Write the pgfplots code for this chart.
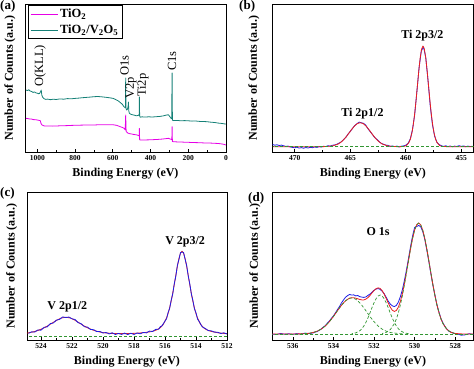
\documentclass[border=0pt]{standalone}
\usepackage{fontspec}
\setmainfont{Liberation Serif}
\usepackage{pgfplots}
\pgfplotsset{compat=1.18}
\definecolor{teal2}{RGB}{20,128,118}
\definecolor{mag}{RGB}{230,0,230}
\definecolor{dblue}{RGB}{30,30,230}
\definecolor{dred}{RGB}{235,30,30}
\definecolor{dgreen}{RGB}{50,150,50}
\tikzset{
 ann/.style={font=\fontsize{12}{14}\selectfont\bfseries},
 spec/.style={line width=0.8pt, line join=round},
 comp/.style={dgreen, line width=0.7pt, dash pattern=on 3pt off 2pt},
}
\pgfplotsset{
 panel/.style={
  scale only axis, width=201pt, height=148pt,
  x dir=reverse, ymin=0, ymax=148, ytick=\empty,
  xtick pos=bottom, tick align=inside, minor x tick num=1,
  major tick length=3pt, minor tick length=1.8pt,
  tick label style={font=\fontsize{7.5}{8}\selectfont\bfseries},
  /pgf/number format/assume math mode=true,
  /pgf/number format/1000 sep={},
  xlabel={Binding Energy (eV)}, ylabel={Number of Counts (a.u.)},
  label style={font=\fontsize{12}{14}\selectfont\bfseries},
  xlabel style={at={(axis description cs:0.5,-0.145)}, anchor=center},
  axis line style={line width=0.8pt},
  every tick/.style={black, line width=0.6pt},
 },
}
\begin{document}
\begin{tikzpicture}
\path[use as bounding box] (0pt,0pt) rectangle (474pt,368pt);
\node[anchor=north west, inner sep=0pt, font=\fontsize{13}{14}\selectfont\bfseries] at (0pt,368pt) {(a)};
\node[anchor=north west, inner sep=0pt, font=\fontsize{13}{14}\selectfont\bfseries] at (239pt,368pt) {(b)};
\node[anchor=north west, inner sep=0pt, font=\fontsize{13}{14}\selectfont\bfseries] at (0pt,181pt) {(c)};
\node[anchor=north west, inner sep=0pt, font=\fontsize{13}{14}\selectfont\bfseries] at (248pt,176pt) {(d)};

% ---------------- (a) survey
\begin{axis}[panel, at={(25pt,216pt)}, anchor=south west,
  xmin=0, xmax=1065, xtick={0,200,400,600,800,1000},
  ylabel style={at={(axis description cs:-0.075,0.5)}, anchor=center},
  legend style={at={(0.015,0.99)}, anchor=north west, draw=black, line width=0.5pt,
    font=\fontsize{12.5}{13}\selectfont\bfseries, inner xsep=2pt, inner ysep=1.5pt, row sep=1.5pt},
  legend cell align=left,
  legend image code/.code={\draw[#1] (0cm,0cm) -- (0.95cm,0cm);}]
\addplot[spec, mag] coordinates {(1060,33.7)(1050,33.4)(1040,33.0)(1030,32.9)(1020,32.4)(1010,32.3)(1000,32.0)(990,31.6)(984,31.3)(980,28.5)(976,27.2)(968,26.4)(960,26.0)(940,26.1)(920,25.9)(900,26.0)(880,26.2)(860,26.3)(840,26.4)(820,26.6)(800,26.7)(780,26.8)(760,26.9)(740,27.0)(720,27.1)(700,27.0)(680,27.2)(660,27.3)(640,27.2)(620,27.3)(600,27.3)(590,27.0)(580,26.7)(570,26.0)(560,25.3)(550,24.6)(540,23.7)(534,22.2)(531.5,37)(529,20.5)(525,19.8)(520,18.9)(512,18.4)(500,18.0)(490,17.6)(480,17.3)(470,17.0)(462,16.2)(460,16.4)(459,23.7)(457.5,12.3)(455,12.0)(440,12.0)(420,12.1)(400,12.2)(380,12.4)(360,12.6)(340,12.9)(320,13.3)(305,13.7)(296,13.0)(290,12.6)(287,12.4)(285.5,25.3)(284,10.6)(280,10.3)(260,10.1)(240,10.0)(220,9.8)(200,9.7)(180,9.5)(160,9.4)(140,9.3)(120,9.1)(100,9.0)(80,8.9)(60,8.7)(40,8.5)(20,8.0)(10,7.6)(0,7.0)};
\addlegendentry{TiO\textsubscript{2}}
\addplot[spec, teal2] coordinates {(1060,62)(1052,61.5)(1045,62.2)(1038,61)(1030,60.5)(1022,59.6)(1015,60.1)(1008,59.2)(1000,58.8)(994,58.3)(988,58.5)(982,60.5)(979,62)(976,57)(972,55)(965,53.4)(955,52.6)(945,52.9)(930,52.3)(915,52.8)(900,52.5)(880,53.1)(860,52.8)(840,53.4)(820,53.2)(800,53.6)(780,53.9)(760,54.3)(740,54.6)(720,54.9)(700,55.3)(680,55.5)(660,55.2)(640,54.8)(620,54.3)(600,53.7)(590,53.0)(580,52.0)(570,51.0)(560,49.4)(550,47.9)(542,45.6)(536,44.5)(533,44.2)(531.5,74)(530,44)(527,42)(523,42.5)(519,45)(517,50)(515,41)(512,38.7)(505,37.8)(495,37.2)(485,36.8)(475,36.2)(466,36.6)(462,36.8)(460,38)(459,55)(457.5,36)(455,34.8)(445,35.2)(430,34.9)(410,35.2)(390,35.0)(370,35.3)(350,35.6)(330,36.2)(315,37.0)(305,37.2)(298,35.5)(292,33.8)(288,33.5)(285.5,79)(284,32)(280,31.4)(260,31.6)(240,31.2)(220,31.4)(200,31.2)(180,30.9)(160,31.0)(140,30.6)(120,30.5)(100,30.3)(80,29.8)(60,29.5)(40,28.9)(20,28.5)(5,28.0)(0,28)};
\addlegendentry{TiO\textsubscript{2}/V\textsubscript{2}O\textsubscript{5}}
\node[rotate=90, anchor=west, inner sep=1pt, font=\fontsize{12.5}{14}\selectfont] at (axis cs:985,64) {O(KLL)};
\node[rotate=90, anchor=west, inner sep=1pt, font=\fontsize{12.5}{14}\selectfont] at (axis cs:537,75) {O1s};
\node[rotate=90, anchor=west, inner sep=1pt, font=\fontsize{12.5}{14}\selectfont] at (axis cs:503,52) {V2p};
\node[rotate=90, anchor=west, inner sep=1pt, font=\fontsize{12.5}{14}\selectfont] at (axis cs:440,54) {Ti2p};
\node[rotate=90, anchor=west, inner sep=1pt, font=\fontsize{12.5}{14}\selectfont] at (axis cs:286,80) {C1s};
\end{axis}

% ---------------- (b) Ti 2p
\begin{axis}[panel, at={(272.5pt,216pt)}, anchor=south west,
  xmin=453.9, xmax=472, xtick={455,460,465,470},
  ylabel style={at={(axis description cs:-0.093,0.5)}, anchor=center}]
\addplot[spec, dblue] coordinates {(472.0,7.5)(471.8,6.8)(471.6,7.2)(471.4,6.5)(471.2,6.9)(471.0,6.2)(470.8,5.6)(470.6,5.9)(470.4,5.0)(470.2,4.6)(470.0,4.2)(469.8,4.8)(469.6,3.9)(469.4,4.4)(469.2,3.8)(469.0,4.5)(468.8,4.0)(468.6,4.7)(468.4,4.3)(468.2,5.0)(468.0,4.6)(467.8,5.4)(467.6,5.0)(467.4,5.7)(467.2,5.4)(467.0,6.3)(466.8,5.9)(466.6,6.8)(466.4,7.0)(466.2,7.8)(466.0,8.9)(465.8,10.2)(465.6,12.5)(465.4,14.6)(465.2,17.9)(465.0,20.6)(464.8,23.5)(464.6,26.4)(464.4,28.2)(464.2,29.9)(464.0,29.2)(463.8,28.7)(463.6,26.8)(463.4,23.2)(463.2,20.4)(463.0,17.5)(462.8,14.5)(462.6,12.6)(462.4,10.4)(462.2,8.6)(462.0,7.7)(461.8,6.9)(461.6,6.6)(461.4,5.6)(461.2,6.0)(461.0,5.4)(460.8,5.9)(460.6,5.1)(460.4,5.8)(460.2,6.1)(460.0,6.8)(459.8,8.5)(459.6,12.8)(459.4,21.9)(459.2,37.0)(459.0,60.2)(458.8,84.4)(458.6,101.0)(458.4,105.2)(458.2,94.6)(458.0,72.0)(457.8,46.7)(457.6,27.5)(457.4,15.8)(457.2,9.9)(457.0,7.5)(456.8,6.3)(456.6,5.6)(456.4,6.2)(456.2,5.4)(456.0,6.0)(455.8,5.2)(455.6,5.9)(455.4,5.5)(455.2,6.3)(455.0,5.6)(454.8,6.1)(454.6,5.3)(454.4,5.9)(454.2,5.4)(454.0,5.8)};
\addplot[spec, dred] coordinates {(453.9,5.3)(455,5.3)(456,5.3)(456.7,5.5)(456.95,6.4)(457.2,9.7)(457.325,13.3)(457.45,18.9)(457.575,27.1)(457.7,38.0)(457.825,51.4)(457.95,66.4)(458.075,81.3)(458.2,94.2)(458.325,102.9)(458.45,106.0)(458.575,102.9)(458.7,94.2)(458.825,81.3)(458.95,66.4)(459.075,51.4)(459.2,38.0)(459.325,27.1)(459.45,18.9)(459.575,13.3)(459.7,9.7)(459.95,6.4)(460.2,5.5)(460.6,5.3)(461.1,5.5)(461.6,6.05)(462.1,7.9)(462.35,9.7)(462.6,12.2)(462.85,15.4)(463.1,19.1)(463.35,22.9)(463.6,26.2)(463.85,28.5)(464.1,29.3)(464.35,28.5)(464.6,26.2)(464.85,22.9)(465.1,19.1)(465.35,15.4)(465.6,12.2)(465.85,9.7)(466.1,7.9)(466.6,6.05)(467.1,5.5)(467.6,5.3)(470,5.3)(472,5.3)};
\addplot[comp] coordinates {(453.9,5.3)(472,5.3)};
\node[ann] at (axis cs:458.5,116) {Ti 2p3/2};
\node[ann] at (axis cs:463.9,38) {Ti 2p1/2};
\end{axis}

% ---------------- (c) V 2p
\begin{axis}[panel, width=200pt, at={(27pt,28pt)}, anchor=south west,
  xmin=512, xmax=524.9, xtick={512,514,...,524},
  ylabel style={at={(axis description cs:-0.077,0.5)}, anchor=center}]
\addplot[spec, dred] coordinates {(512.0,6.35)(512.5,7.0)(513.0,8.5)(513.3,10.1)(513.5,12.1)(513.7,15.6)(513.9,21.8)(514.0,26.4)(514.1,32.0)(514.2,38.8)(514.3,46.6)(514.4,55.3)(514.5,64.6)(514.6,73.6)(514.7,81.3)(514.8,86.7)(514.9,88.8)(515.0,86.85)(515.1,81.45)(515.2,73.8)(515.3,64.8)(515.4,55.5)(515.5,46.8)(515.6,39.0)(515.7,32.2)(515.8,26.6)(515.9,22.0)(516.1,15.8)(516.3,12.3)(516.5,10.35)(516.7,9.2)(516.9,8.3)(517.4,7.3)(517.9,6.7)(518.5,6.4)(519.0,6.4)(519.5,6.65)(520.0,7.4)(520.3,8.3)(520.6,9.7)(520.9,11.5)(521.2,13.9)(521.5,16.8)(521.8,19.7)(522.1,22.0)(522.4,22.85)(522.7,21.9)(523.0,19.6)(523.3,16.7)(523.6,13.8)(523.9,11.4)(524.2,9.5)(524.5,8.1)(524.9,6.9)};
\addplot[spec, dblue] coordinates {(512.0,6.0)(512.2,7.2)(512.4,6.5)(512.6,7.8)(512.8,7.9)(513.0,9.1)(513.2,9.4)(513.4,11.5)(513.6,13.2)(513.8,18.6)(513.9,21.0)(514.0,27.3)(514.1,31.1)(514.2,39.5)(514.3,46.0)(514.4,56.2)(514.5,64.0)(514.6,74.5)(514.7,80.6)(514.8,87.5)(514.9,88.0)(515.0,87.4)(515.1,80.5)(515.2,74.6)(515.3,63.9)(515.4,56.3)(515.5,46.1)(515.6,39.8)(515.7,31.5)(515.8,27.4)(515.9,21.2)(516.0,18.9)(516.1,16.5)(516.2,14.0)(516.3,13.4)(516.4,10.8)(516.6,10.6)(516.8,8.5)(517.0,8.9)(517.2,7.1)(517.4,7.6)(517.6,6.2)(517.8,7.0)(518.0,5.5)(518.2,6.8)(518.4,5.4)(518.6,6.9)(518.8,5.6)(519.0,6.6)(519.2,5.5)(519.4,7.2)(519.6,6.1)(519.8,7.5)(520.0,7.0)(520.2,8.6)(520.4,8.4)(520.6,10.3)(520.8,10.5)(521.0,12.9)(521.2,13.3)(521.4,16.2)(521.6,17.4)(521.8,20.5)(522.0,21.2)(522.2,23.0)(522.4,22.4)(522.6,23.1)(522.8,20.6)(523.0,19.9)(523.2,17.0)(523.4,16.4)(523.6,13.1)(523.8,12.7)(524.0,9.8)(524.2,10.1)(524.4,7.9)(524.6,8.2)(524.8,6.6)};
\addplot[comp] coordinates {(512,3.3)(524.9,3.3)};
\node[ann] at (axis cs:514.7,98.3) {V 2p3/2};
\node[ann] at (axis cs:522.3,33) {V 2p1/2};
\end{axis}

% ---------------- (d) O 1s
\begin{axis}[panel, at={(272.5pt,28pt)}, anchor=south west,
  xmin=527.1, xmax=537, xtick={528,530,...,536},
  ylabel style={at={(axis description cs:-0.087,0.5)}, anchor=center}]
\addplot[spec, dblue] coordinates {(527.1,5.5)(527.3,6.3)(527.5,5.2)(527.7,4.8)(527.9,6.1)(528.0,6.3)(528.1,6.9)(528.2,7.8)(528.3,8.6)(528.4,10.8)(528.5,13.2)(528.6,16.9)(528.7,21.3)(528.8,27.9)(528.9,35.0)(529.0,44.9)(529.1,55.0)(529.2,66.6)(529.3,78.5)(529.4,90.2)(529.5,100.8)(529.6,108.5)(529.7,113.2)(529.8,114.6)(529.9,113.4)(530.0,112.6)(530.1,104.1)(530.2,93.5)(530.3,81.6)(530.4,70.2)(530.5,59.8)(530.6,50.5)(530.7,43.4)(530.8,37.9)(530.9,34.6)(531.0,33.4)(531.1,34.2)(531.2,36.0)(531.3,38.9)(531.4,42.7)(531.5,46.3)(531.6,48.8)(531.7,50.6)(531.8,51.5)(531.9,50.9)(532.0,49.7)(532.1,47.8)(532.2,45.9)(532.3,44.6)(532.4,43.1)(532.5,42.6)(532.6,42.9)(532.7,43.3)(532.8,44.5)(532.9,44.1)(533.0,45.2)(533.1,44.9)(533.2,45.6)(533.3,44.4)(533.4,42.8)(533.5,40.1)(533.6,37.2)(533.7,33.4)(533.8,30.5)(533.9,27.1)(534.0,24.1)(534.1,21.6)(534.2,18.9)(534.3,16.8)(534.4,14.3)(534.5,12.9)(534.6,11.0)(534.7,9.8)(534.8,8.4)(534.9,7.9)(535.0,7.1)(535.2,6.4)(535.4,6.9)(535.6,5.8)(535.8,6.4)(536.0,5.7)(536.2,6.2)(536.4,5.8)(536.6,6.5)(536.8,5.5)(537.0,5.9)};
\addplot[spec, dred] coordinates {(527.1,6.0)(527.6,6.0)(528.0,6.5)(528.2,7.6)(528.4,10.35)(528.6,16.3)(528.7,21.0)(528.8,27.3)(528.9,35.1)(529.0,44.5)(529.1,55.4)(529.2,67.2)(529.3,79.4)(529.4,91.2)(529.5,101.6)(529.6,109.9)(529.7,115.2)(529.8,117.0)(529.9,115.2)(530.0,109.9)(530.1,101.7)(530.2,91.35)(530.3,79.7)(530.4,67.85)(530.5,56.6)(530.6,46.6)(530.7,38.6)(530.8,32.9)(530.9,29.5)(531.0,28.6)(531.1,29.8)(531.2,32.85)(531.3,37.0)(531.4,41.6)(531.5,45.9)(531.6,49.4)(531.7,51.6)(531.8,52.15)(531.9,51.3)(532.0,49.5)(532.1,47.1)(532.2,44.5)(532.3,42.4)(532.4,40.9)(532.5,40.1)(532.6,40.1)(532.7,40.5)(532.8,41.2)(532.9,41.8)(533.0,42.3)(533.1,42.3)(533.2,41.85)(533.3,40.7)(533.4,39.2)(533.5,37.2)(533.6,34.8)(533.7,32.1)(533.8,29.3)(533.9,26.4)(534.0,23.5)(534.2,18.3)(534.4,14.0)(534.6,10.9)(534.8,8.8)(535.0,7.5)(535.2,6.7)(535.5,6.2)(536.0,6.0)(537.0,6.0)};
\addplot[comp] coordinates {(527.1,6)(537,6)};
\addplot[comp] coordinates {(528.0,6.5)(528.2,7.6)(528.4,10.35)(528.6,16.3)(528.7,21.0)(528.8,27.3)(528.9,35.1)(529.0,44.5)(529.1,55.4)(529.2,67.2)(529.3,79.4)(529.4,91.2)(529.5,101.6)(529.6,109.9)(529.7,115.2)(529.8,117.0)(529.9,115.2)(530.0,109.9)(530.1,101.6)(530.2,91.2)(530.3,79.4)(530.4,67.2)(530.5,55.4)(530.6,44.5)(530.7,35.1)(530.8,27.3)(530.9,21.0)(531.0,16.3)(531.2,10.35)(531.4,7.6)(531.6,6.5)};
\addplot[comp] coordinates {(530.3,6.3)(530.5,7.1)(530.7,9.3)(530.8,11.3)(530.9,14.0)(531.0,17.6)(531.1,22.0)(531.2,27.0)(531.3,32.3)(531.4,37.2)(531.5,41.3)(531.6,44.0)(531.7,45.0)(531.8,44.0)(531.9,41.3)(532.0,37.2)(532.1,32.3)(532.2,27.0)(532.3,22.0)(532.4,17.6)(532.5,14.0)(532.6,11.3)(532.7,9.3)(532.9,7.1)(533.1,6.3)};
\addplot[comp] coordinates {(530.6,6.14)(530.8,6.5)(531.0,7.0)(531.2,7.5)(531.4,8.8)(531.6,10.9)(531.8,14.0)(532.0,18.3)(532.2,23.5)(532.4,29.3)(532.6,34.8)(532.8,39.2)(532.9,40.7)(533.0,41.7)(533.1,42.0)(533.2,41.7)(533.3,40.7)(533.4,39.2)(533.6,34.8)(533.8,29.3)(534.0,23.5)(534.2,18.3)(534.4,14.0)(534.6,10.9)(534.8,8.8)(535.0,7.5)(535.2,6.7)(535.6,6.14)};
\node[ann] at (axis cs:531.8,108.3) {O 1s};
\end{axis}
\end{tikzpicture}
\end{document}
